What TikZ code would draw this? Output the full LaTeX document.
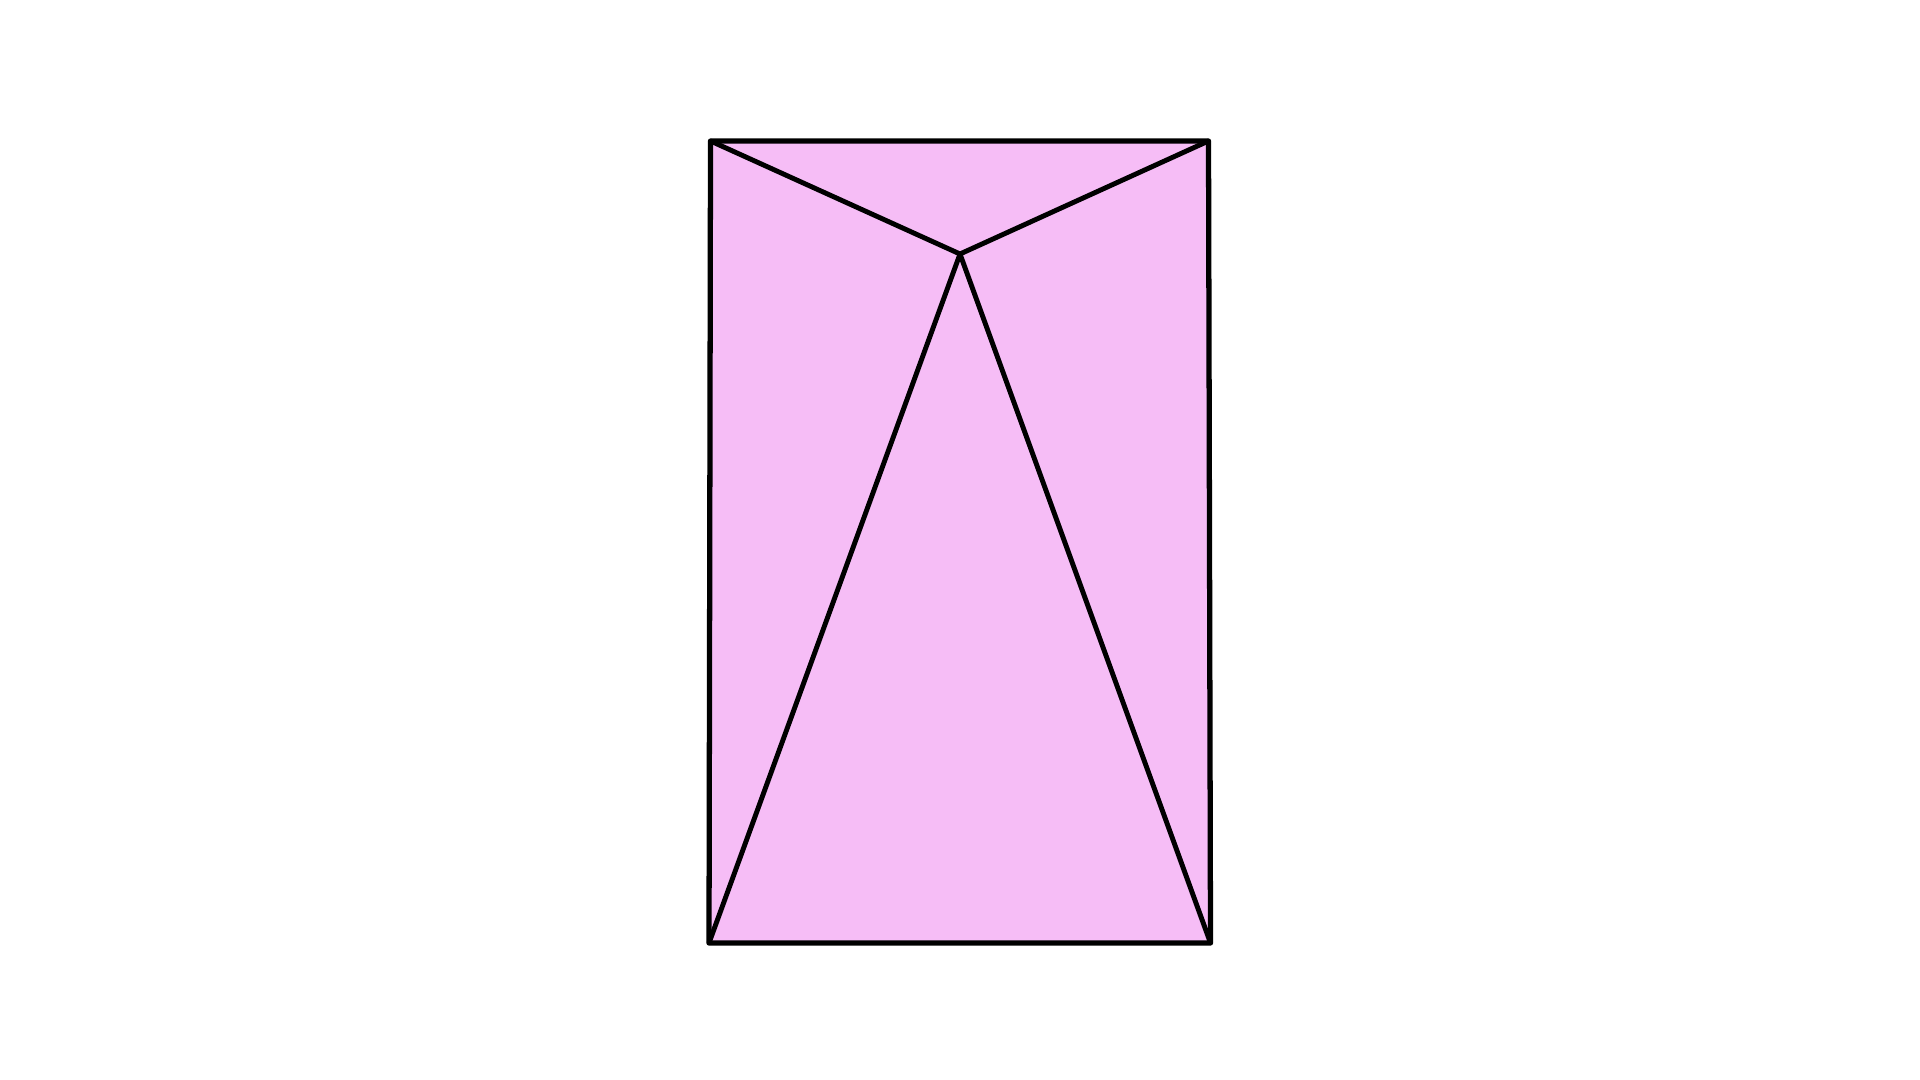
\documentclass[tikz,border=0pt]{standalone}
\definecolor{sheetpink}{RGB}{246,189,246}
\begin{document}
\begin{tikzpicture}
\useasboundingbox (0,0) rectangle (19.2,10.8);
\coordinate (TL) at (7.105,9.39);
\coordinate (TR) at (12.085,9.39);
\coordinate (BR) at (12.105,1.37);
\coordinate (BL) at (7.09,1.37);
\coordinate (A) at (9.60,8.26);
\filldraw[color=black,fill=sheetpink,line width=1.5pt,line join=round](TL)--(TR)--(BR)--(BL)--cycle;
\draw[line width=1.4pt,line join=round](TL)--(A)--(TR);
\draw[line width=1.4pt,line join=round](BL)--(A)--(BR);
\end{tikzpicture}
\end{document}
